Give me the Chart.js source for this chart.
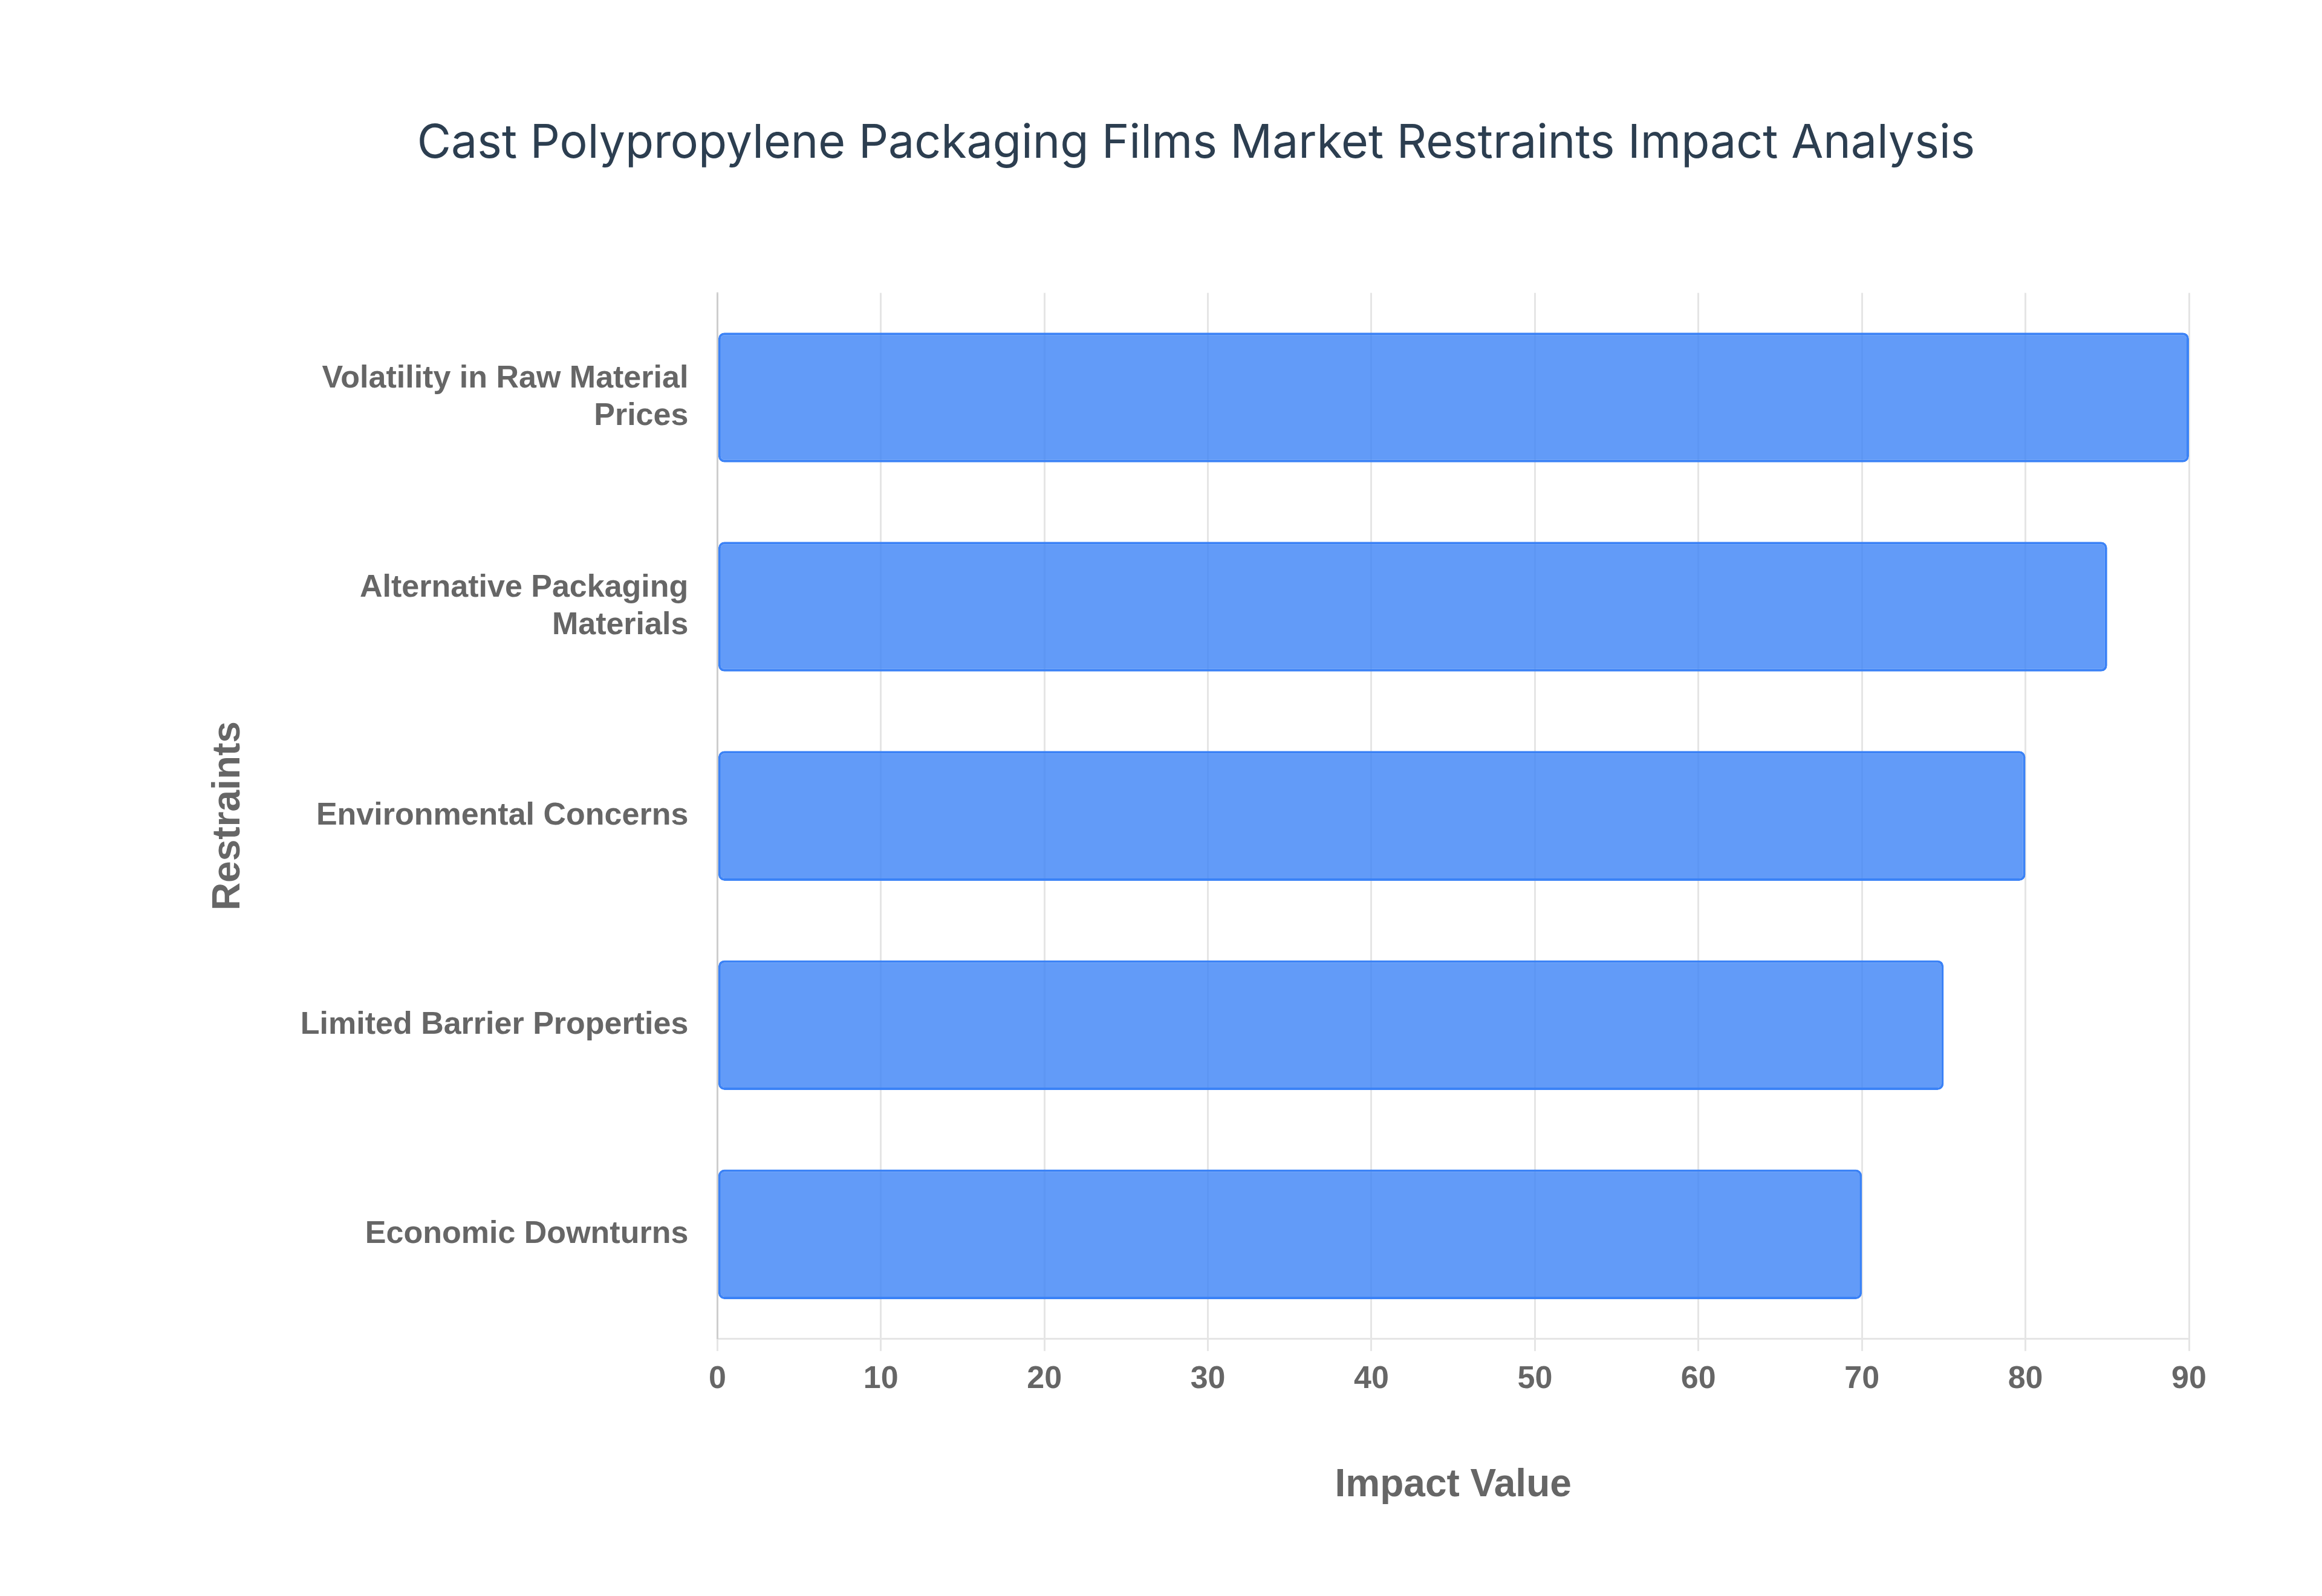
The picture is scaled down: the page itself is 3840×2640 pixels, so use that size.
<!DOCTYPE html>
<html><head><meta charset="utf-8">
<script src="https://cdn.jsdelivr.net/npm/chart.js@4"></script>
<style>html,body{margin:0;background:#fff}#w{width:3840px;height:2640px}</style>
</head><body><div id="w"><canvas id="c"></canvas></div>
<script>
const categories=[["Volatility in Raw Material","Prices"],["Alternative Packaging","Materials"],"Environmental Concerns","Limited Barrier Properties","Economic Downturns"];
const values=[90,85,80,75,70];
const xTicks=[0,10,20,30,40,50,60,70,80,90];
const tickFont={family:"Liberation Sans, Arial",weight:"bold",size:52};
new Chart(document.getElementById('c'),{
type:'bar',
data:{labels:categories,datasets:[{data:values,backgroundColor:'rgba(59,130,246,0.8)',borderColor:'rgb(59,130,246)',borderWidth:4,borderRadius:10,borderSkipped:false,barPercentage:0.62,categoryPercentage:1}]},
options:{indexAxis:'y',responsive:true,maintainAspectRatio:false,devicePixelRatio:1,animation:false,
layout:{padding:{left:336,right:220,top:60,bottom:140}},
plugins:{legend:{display:false},tooltip:{enabled:false},
title:{display:true,text:'Cast Polypropylene Packaging Films Market Restraints Impact Analysis',color:'#2c3e50',font:{family:'Inter',size:77,weight:'normal'},padding:{top:132,bottom:200}}},
scales:{
x:{min:0,max:90,afterBuildTicks:a=>{a.ticks=xTicks.map(v=>({value:v}));},ticks:{color:'#666',font:tickFont,padding:16},grid:{color:'rgba(0,0,0,0.1)',lineWidth:3,tickLength:20},border:{color:'rgba(0,0,0,0.1)',width:3},
title:{display:true,text:'Impact Value',color:'#666',font:{family:"Liberation Sans, Arial",weight:'bold',size:64},padding:{top:90}}},
y:{ticks:{color:'#666',font:tickFont,padding:40},grid:{display:false},border:{color:'rgba(0,0,0,0.1)',width:3},
title:{display:true,text:'Restraints',color:'#666',font:{family:"Liberation Sans, Arial",weight:'bold',size:64},padding:{bottom:40}}}
}}});
</script></body></html>
